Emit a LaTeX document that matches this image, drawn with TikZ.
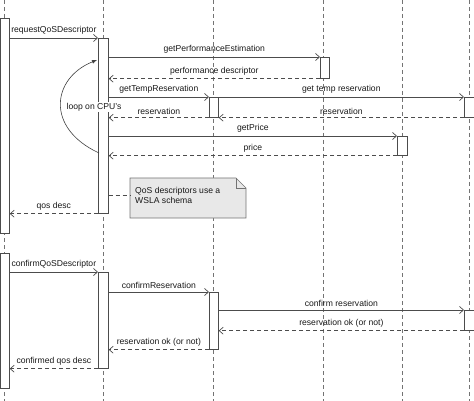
\documentclass[tikz,border=0pt]{standalone}
\usepackage{fontspec}
\setmainfont{Liberation Sans}
\usetikzlibrary{arrows.meta}
\begin{document}
\begin{tikzpicture}[x=1pt,y=-1pt,
  lifeline/.style={draw=black!55,dash pattern=on 4pt off 3pt,line width=0.6pt},
  actbox/.style={draw=black!70,fill=white,line width=0.7pt,inner sep=0pt,minimum width=#1,anchor=north west},
  msg/.style={draw=black!70,line width=0.7pt,-{Straight Barb[length=4pt,width=7pt]}},
  ret/.style={msg,dash pattern=on 4pt off 3pt},
  lbl/.style={font=\fontsize{8.6}{10}\selectfont,text=black!90,inner sep=1pt},
  notebox/.style={draw=black!55,fill=black!9,line width=0.6pt},
]
\useasboundingbox (0,0) rectangle (474,401);
\clip (0,0) rectangle (474,401);
% lifelines
\foreach \x in {4,103,213,323,402,469} \draw[lifeline] (\x,0) -- (\x,401);
% activation boxes
\node[actbox=9pt,minimum height=215pt] (a1) at (0,18) {};
\node[actbox=10pt,minimum height=175pt] (a2) at (98,38) {};
\node[actbox=9pt,minimum height=21pt] (p1) at (320,57) {};
\node[actbox=9pt,minimum height=20pt] (t1) at (209,97) {};
\node[actbox=16pt,minimum height=20pt] (t2) at (464,97) {};
\node[actbox=10pt,minimum height=19pt] (pr) at (397,136) {};
\node[actbox=9pt,minimum height=135pt] (b1) at (0,253) {};
\node[actbox=10pt,minimum height=96pt] (b2) at (98,272) {};
\node[actbox=9pt,minimum height=57pt] (c1) at (209,292) {};
\node[actbox=16pt,minimum height=20pt] (c2) at (464,310) {};
% messages, first part
\draw[msg] (a2.north west -| a1.east) -- node[lbl,above=2pt] {requestQoSDescriptor} (a2.north west);
\draw[msg] (p1.north west -| a2.east) -- node[lbl,above=2pt] {getPerformanceEstimation} (p1.north west);
\draw[ret] (p1.south west) -- node[lbl,above=2pt] {performance descriptor} (p1.south west -| a2.east);
\draw[msg] (t1.north west -| a2.east) -- node[lbl,above=2pt] {getTempReservation} (t1.north west);
\draw[msg] (t1.north east) -- node[lbl,above=2pt] {get temp reservation} (t2.north west);
\draw[ret] (t2.south west) -- node[lbl,above=2pt] {reservation} (t1.south east);
\draw[ret] (t1.south west) -- node[lbl,above=2pt] {reservation} (t1.south west -| a2.east);
\draw[msg] (pr.north west -| a2.east) -- node[lbl,above=2pt] {getPrice} (pr.north west);
\draw[ret] (pr.south west) -- node[lbl,above=2pt] {price} (pr.south west -| a2.east);
\draw[ret] (a2.south west) -- node[lbl,above=2pt] {qos desc} (a2.south west -| a1.east);
% loop
\coordinate (ls) at (99,153);
\coordinate (le) at (97,60);
\draw[draw=black!75,line width=0.6pt,-{Latex[length=5pt,width=4pt]}] (ls) .. controls (45,128) and (52,78) .. (le);
\node[lbl,fill=white] (loop) at (94,107) {loop on CPU's};
% note
\coordinate (n1) at (130,178);
\draw[notebox] (n1) -- (236,178) -- (246,188) -- (246,218) -- (130,218) -- cycle;
\draw[draw=black!55,line width=0.6pt] (236,178) -- (236,188) -- (246,188);
\node[lbl,anchor=north west,align=left,font=\fontsize{8.6}{10.5}\selectfont] (note) at (134,186) {QoS descriptors use a\\WSLA schema};
\draw[draw=black!70,line width=0.7pt,dash pattern=on 4pt off 3pt] (a2.east |- 0,195) -- (130,195);
% second part
\draw[msg] (b2.north west -| b1.east) -- node[lbl,above=2pt] {confirmQoSDescriptor} (b2.north west);
\draw[msg] (c1.north west -| b2.east) -- node[lbl,above=2pt] {confirmReservation} (c1.north west);
\draw[msg] (c2.north west -| c1.east) -- node[lbl,above=2pt] {confirm reservation} (c2.north west);
\draw[ret] (c2.south west) -- node[lbl,above=2pt] {reservation ok (or not)} (c2.south west -| c1.east);
\draw[ret] (c1.south west) -- node[lbl,above=2pt] {reservation ok (or not)} (c1.south west -| b2.east);
\draw[ret] (b2.south west) -- node[lbl,above=2pt] {confirmed qos desc} (b2.south west -| b1.east);
\end{tikzpicture}
\end{document}
